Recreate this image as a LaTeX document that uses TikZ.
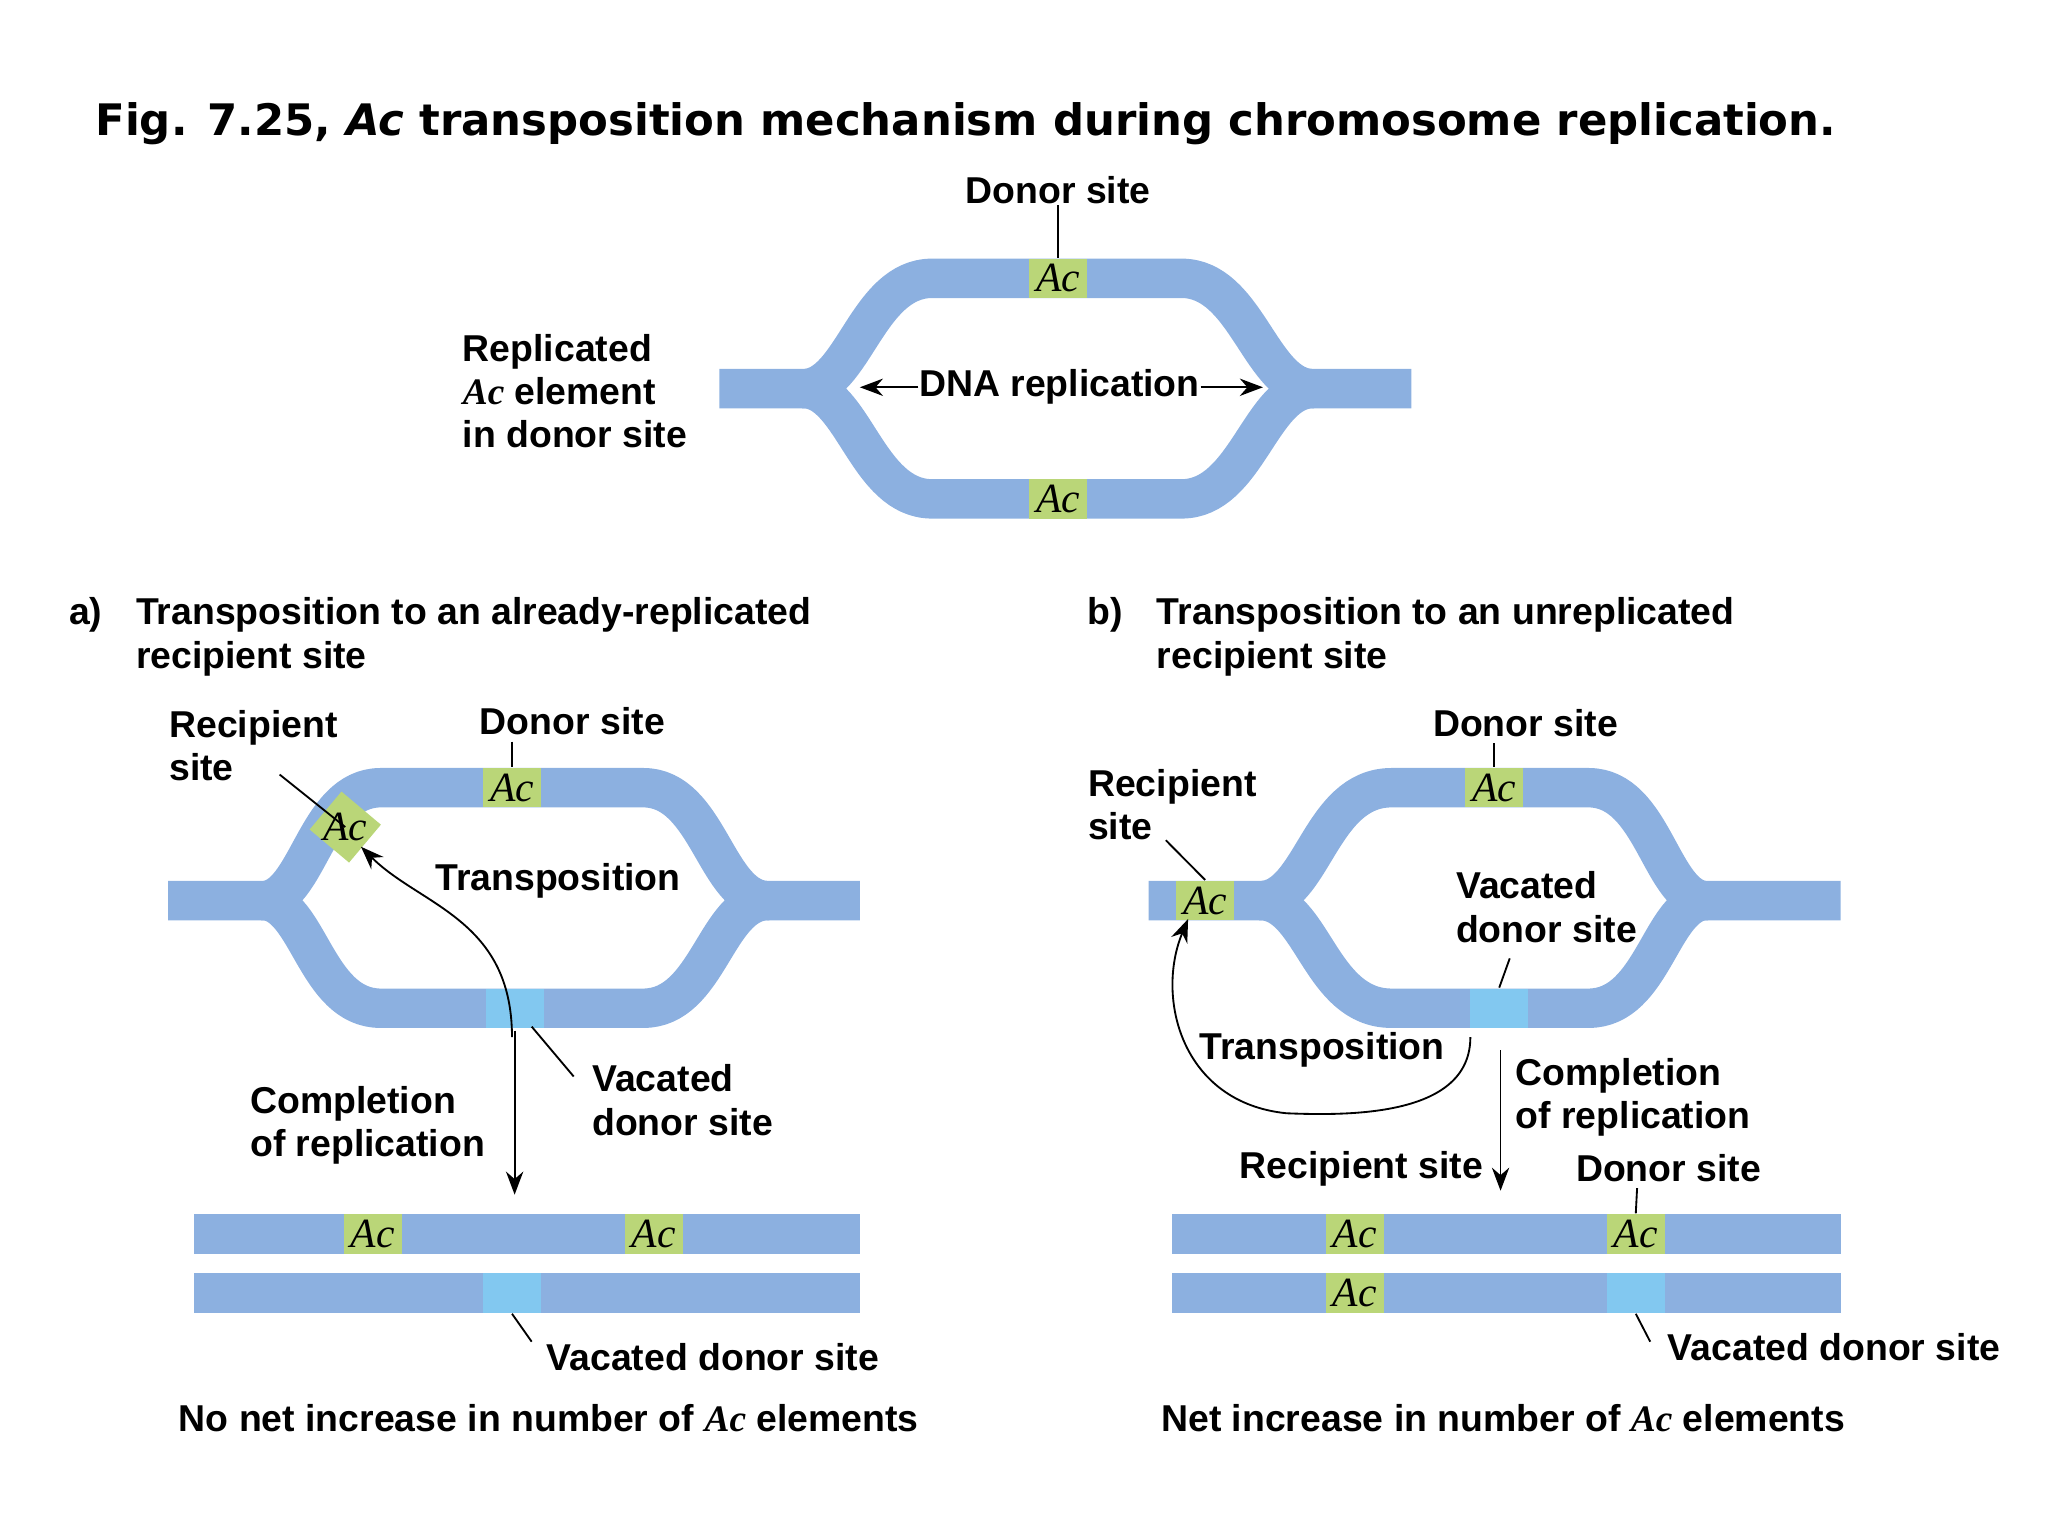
\documentclass[tikz,border=0pt]{standalone}
\usepackage{fontspec}
\setmainfont{Liberation Sans}
\newfontfamily\titlefont{DejaVu Sans}
\newfontfamily\acfont{Liberation Serif}
\usetikzlibrary{arrows.meta}
\definecolor{strand}{RGB}{140,176,224}
\definecolor{acgreen}{RGB}{186,214,120}
\definecolor{vacated}{RGB}{130,200,240}
\tikzset{
  dna/.style={draw=strand,line width=0.3cm,line join=round},
  ac/.style={fill=acgreen,minimum width=0.44cm,minimum height=0.3cm,inner sep=0pt,font=\acfont\itshape\fontsize{9}{9}\selectfont},
  vac/.style={fill=vacated,minimum width=0.44cm,minimum height=0.3cm,inner sep=0pt},
  lbl/.style={font=\bfseries\fontsize{8.1}{9.4}\selectfont,align=left,inner sep=0pt},
  ptr/.style={thin},
  arr/.style={thin,-{Stealth[length=5pt]}}
}
\begin{document}
\begin{tikzpicture}[x=0.01cm,y=-0.01cm]
\useasboundingbox (0,0) rectangle (1560,1170);
\node[font=\titlefont\bfseries\fontsize{9.4}{11}\selectfont,anchor=west,inner sep=0pt] (title) at (72,94) {Fig. 7.25, \textit{Ac} transposition mechanism during chromosome replication.};

% top bubble
\draw[dna] (548,296) -- (612,296) .. controls (650,296) and (660,212) .. (710,212) -- (900,212) .. controls (950,212) and (960,296) .. (1000,296) -- (1075,296);
\draw[dna] (612,296) .. controls (650,296) and (660,380) .. (710,380) -- (900,380) .. controls (950,380) and (960,296) .. (1000,296);
\node[ac] (t1) at (806,212) {Ac};
\node[ac] (t2) at (806,380) {Ac};
\node[lbl] (tdonor) at (806,145) {Donor site};
\draw[ptr] (tdonor.south) -- (t1.north);
\node[lbl] (trep) at (438,298) {Replicated\\{\acfont\itshape Ac} element\\in donor site};
\node[lbl] (trepl) at (807,295) {DNA replication};
\coordinate (tl) at (655,295);
\coordinate (tr) at (962,295);
\draw[arr] (trepl.west) -- (tl);
\draw[arr] (trepl.east) -- (tr);

% panel a
\node[lbl,anchor=north west] (alab) at (52,452) {a)\hspace{0.9em}\begin{tabular}[t]{@{}l@{}}Transposition to an already-replicated\\recipient site\end{tabular}};
\draw[dna] (128,686) -- (200,686) .. controls (235,686) and (240,600) .. (290,600) -- (490,600) .. controls (540,600) and (545,686) .. (585,686) -- (655,686);
\draw[dna] (200,686) .. controls (235,686) and (240,768) .. (290,768) -- (490,768) .. controls (540,768) and (545,686) .. (585,686);
\node[ac] (a1) at (390,600) {Ac};
\node[ac,rotate=-40,minimum width=0.36cm] (a2) at (263,630) {\rotatebox{40}{Ac}};
\node[vac] (a3) at (392,768) {};
\draw[dna] (148,940) -- (655,940);
\draw[dna] (148,985) -- (655,985);
\node[ac] (a4) at (284,940) {Ac};
\node[ac] (a5) at (498,940) {Ac};
\node[vac] (a6) at (390,985) {};
\node[lbl] (adonor) at (436,549) {Donor site};
\draw[ptr] (390,565) -- (a1.north);
\node[lbl] (arec) at (193,568) {Recipient\\site};
\draw[ptr] (213,590) -- (a2.center);
\node[lbl] (atrans) at (425,671) {Transposition};
\coordinate (aend) at (275,645);
\draw[arr] (390,790) .. controls (390,700) and (320,690) .. (aend);
\node[lbl] (avac) at (520,838) {Vacated\\donor site};
\draw[ptr] (437,820) -- (405,782);
\node[lbl] (acomp) at (280,857) {Completion\\of replication};
\coordinate (adown) at (392,910);
\draw[arr] (392,785) -- (adown);
\node[lbl] (avac2) at (543,1034) {Vacated donor site};
\draw[ptr] (405,1022) -- (a6.south);
\node[lbl] (anet) at (418,1080) {No net increase in number of {\acfont\itshape Ac} elements};

% panel b
\node[lbl,anchor=north west] (blab) at (828,452) {b)\hspace{0.9em}\begin{tabular}[t]{@{}l@{}}Transposition to an unreplicated\\recipient site\end{tabular}};
\draw[dna] (875,686) -- (960,686) .. controls (1000,686) and (1005,600) .. (1060,600) -- (1210,600) .. controls (1260,600) and (1265,686) .. (1300,686) -- (1402,686);
\draw[dna] (960,686) .. controls (1000,686) and (1005,768) .. (1060,768) -- (1210,768) .. controls (1260,768) and (1265,686) .. (1300,686);
\node[ac] (b1) at (918,686) {Ac};
\node[ac] (b2) at (1138,600) {Ac};
\node[vac] (b3) at (1142,768) {};
\draw[dna] (893,940) -- (1402,940);
\draw[dna] (893,985) -- (1402,985);
\node[ac] (b4) at (1032,940) {Ac};
\node[ac] (b5) at (1246,940) {Ac};
\node[ac] (b6) at (1032,985) {Ac};
\node[vac] (b7) at (1246,985) {};
\node[lbl] (bdonor) at (1162,551) {Donor site};
\draw[ptr] (1138,566) -- (b2.north);
\node[lbl] (brec) at (893,613) {Recipient\\site};
\draw[ptr] (888,640) -- (b1.north);
\node[lbl] (bvac) at (1178,691) {Vacated\\donor site};
\draw[ptr] (1150,730) -- (b3.north);
\node[lbl] (btrans) at (1007,800) {Transposition};
\coordinate (bend) at (905,700);
\draw[arr] (1120,790) .. controls (1120,850) and (1030,850) .. (980,848) .. controls (900,840) and (880,760) .. (bend);
\coordinate (bdown) at (1143,907);
\draw[arr] (1143,800) -- (bdown);
\node[lbl] (bcomp) at (1244,836) {Completion\\of replication};
\node[lbl] (brec2) at (1037,890) {Recipient site};
\node[lbl] (bdonor2) at (1271,890) {Donor site};
\draw[ptr] (1247,905) -- (b5.north);
\node[lbl] (bvac2) at (1397,1026) {Vacated donor site};
\draw[ptr] (1257,1022) -- (b7.south);
\node[lbl] (bnet) at (1145,1080) {Net increase in number of {\acfont\itshape Ac} elements};
\end{tikzpicture}
\end{document}
